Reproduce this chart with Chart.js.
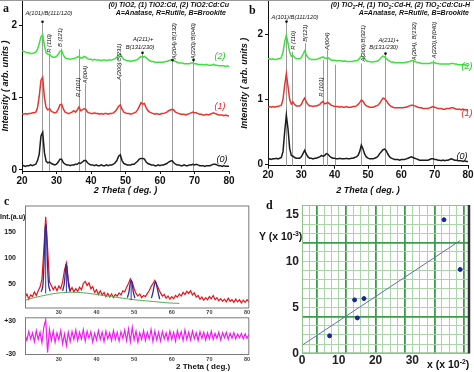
<!DOCTYPE html>
<html>
<head>
<meta charset="utf-8">
<script src="https://cdn.jsdelivr.net/npm/chart.js@4.4.1/dist/chart.umd.min.js"></script>
<style>
  body { margin: 0; background: #fff; width: 474px; height: 372px; position: relative; overflow: hidden; font-family: "Liberation Sans", Arial, sans-serif; color: #111; }
  canvas { position: absolute; }
  .t { position: absolute; white-space: nowrap; line-height: 1; }
  .serif { font-family: "Liberation Serif", "DejaVu Serif", serif; font-weight: bold; font-size: 12px; }
  .hdr { font-size: 7px; font-weight: bold; font-style: italic; }
  .tag { font-size: 9px; font-style: italic; transform: translate(-50%, -50%); }
  sup { font-size: 0.65em; line-height: 0; vertical-align: super; }
  sub { font-size: 0.7em; line-height: 0; vertical-align: sub; }
</style>
</head>
<body>
<div style="position:absolute;left:0;top:0;width:474px;height:1px;background:#999"></div>

<canvas id="chartA" width="237" height="196" style="left:0;top:0"></canvas>
<canvas id="chartB" width="237" height="196" style="left:237px;top:0"></canvas>
<canvas id="chartC" width="255" height="120" style="left:0;top:196px"></canvas>
<canvas id="chartR" width="255" height="60" style="left:0;top:312px"></canvas>
<canvas id="chartD" width="237" height="176" style="left:237px;top:196px"></canvas>

<div class="t serif" style="left:3px;top:2px">a</div>
<div class="t hdr" style="right:245px;top:1px">(0) TiO2, (1) TiO2:Cd, (2) TiO2:Cd:Cu</div>
<div class="t hdr" style="right:248px;top:9px">A=Anatase, R=Rutile, B=Brookite</div>
<div class="t tag" style="left:220px;top:56px;color:#22c822">(2)</div>
<div class="t tag" style="left:220px;top:106px;color:#e02828">(1)</div>
<div class="t tag" style="left:222px;top:159px">(0)</div>

<div class="t serif" style="left:249px;top:4px">b</div>
<div class="t hdr" style="right:4px;top:1px">(0) TiO<sub>2</sub>-H, (1) TiO<sub>2</sub>:Cd-H, (2) TiO<sub>2</sub>:Cd:Cu-H</div>
<div class="t hdr" style="right:5px;top:9px">A=Anatase, R=Rutile, B=Brookite</div>
<div class="t tag" style="left:467px;top:66px;color:#22c822">(2)</div>
<div class="t tag" style="left:467px;top:113px;color:#e02828">(1)</div>
<div class="t tag" style="left:462px;top:156px">(0)</div>

<div class="t serif" style="left:4px;top:195px">c</div>
<div class="t" style="left:0;top:213px;font-size:7px;font-weight:bold">Int.(a.u)</div>
<div class="t" style="left:176px;top:363px;font-size:8px;font-weight:bold">2 Theta ( deg.)</div>

<div class="t serif" style="left:266px;top:199px">d</div>
<div class="t" style="left:259px;top:231px;font-size:10.5px;font-weight:bold">Y (x 10<sup>-3</sup>)</div>
<div class="t" style="left:427px;top:359px;font-size:10.5px;font-weight:bold">x (x 10<sup>-2</sup>)</div>

<script>
// XRD patterns, panels a and b (2 theta grid, step 0.5 deg)
const twoTheta = [20,20.5,21,21.5,22,22.5,23,23.5,24,24.5,25,25.5,26,26.5,27,27.5,28,28.5,29,29.5,
  30,30.5,31,31.5,32,32.5,33,33.5,34,34.5,35,35.5,36,36.5,37,37.5,38,38.5,39,39.5,
  40,40.5,41,41.5,42,42.5,43,43.5,44,44.5,45,45.5,46,46.5,47,47.5,48,48.5,49,49.5,
  50,50.5,51,51.5,52,52.5,53,53.5,54,54.5,55,55.5,56,56.5,57,57.5,58,58.5,59,59.5,
  60,60.5,61,61.5,62,62.5,63,63.5,64,64.5,65,65.5,66,66.5,67,67.5,68,68.5,69,69.5,
  70,70.5,71,71.5,72,72.5,73,73.5,74,74.5,75,75.5,76,76.5,77,77.5,78,78.5,79,79.5,80];
const thetaTicks = [20, 30, 40, 50, 60, 70, 80];
const intensityTicks = [0, 1, 2];

const tio2 = [0.05,0.06,0.05,0.06,0.06,0.07,0.06,0.07,0.08,0.13,
  0.22,0.47,0.52,0.24,0.12,0.10,0.11,0.09,0.08,0.07,
  0.08,0.11,0.15,0.15,0.10,0.08,0.07,0.07,0.06,0.07,
  0.07,0.08,0.08,0.10,0.09,0.11,0.13,0.13,0.10,0.08,
  0.07,0.07,0.06,0.07,0.06,0.06,0.07,0.06,0.06,0.07,
  0.06,0.07,0.07,0.08,0.10,0.13,0.19,0.21,0.13,0.09,
  0.08,0.07,0.07,0.07,0.08,0.08,0.10,0.12,0.15,0.16,
  0.16,0.15,0.11,0.09,0.08,0.07,0.07,0.06,0.06,0.07,
  0.06,0.07,0.07,0.08,0.09,0.11,0.12,0.13,0.10,0.08,
  0.07,0.07,0.06,0.06,0.07,0.06,0.06,0.07,0.07,0.08,
  0.07,0.08,0.07,0.06,0.06,0.06,0.05,0.06,0.06,0.06,
  0.07,0.08,0.08,0.07,0.06,0.06,0.05,0.06,0.05,0.05,0.05];
const tio2Cd = [0.78,0.77,0.78,0.77,0.78,0.78,0.79,0.79,0.80,0.86,
  1.02,1.24,1.28,1.00,0.86,0.83,0.85,0.81,0.80,0.79,
  0.80,0.84,0.90,0.91,0.84,0.80,0.79,0.78,0.79,0.80,
  0.82,0.80,0.83,0.87,0.82,0.83,0.85,0.84,0.80,0.79,
  0.78,0.78,0.79,0.78,0.78,0.77,0.78,0.77,0.78,0.78,
  0.77,0.78,0.78,0.79,0.81,0.84,0.88,0.90,0.84,0.80,
  0.79,0.78,0.78,0.77,0.78,0.79,0.80,0.83,0.88,0.93,
  0.91,0.92,0.86,0.82,0.80,0.79,0.78,0.77,0.78,0.77,
  0.77,0.78,0.78,0.79,0.80,0.82,0.83,0.84,0.83,0.80,
  0.79,0.78,0.77,0.77,0.77,0.76,0.77,0.78,0.79,0.80,
  0.79,0.79,0.78,0.77,0.77,0.76,0.76,0.77,0.76,0.77,
  0.78,0.79,0.78,0.77,0.76,0.76,0.76,0.75,0.76,0.75,0.75];
const tio2CdCu = [1.65,1.64,1.63,1.62,1.62,1.61,1.61,1.62,1.63,1.67,
  1.75,1.84,1.87,1.72,1.62,1.60,1.60,1.57,1.56,1.56,
  1.57,1.60,1.64,1.65,1.59,1.55,1.54,1.54,1.53,1.54,
  1.54,1.55,1.56,1.57,1.55,1.55,1.57,1.56,1.54,1.53,
  1.53,1.52,1.53,1.52,1.52,1.52,1.51,1.52,1.52,1.51,
  1.52,1.52,1.52,1.53,1.54,1.56,1.59,1.60,1.56,1.53,
  1.52,1.51,1.51,1.50,1.51,1.51,1.52,1.53,1.55,1.57,
  1.56,1.57,1.55,1.53,1.51,1.50,1.50,1.49,1.49,1.49,
  1.49,1.49,1.49,1.50,1.50,1.51,1.52,1.52,1.51,1.50,
  1.49,1.48,1.48,1.48,1.47,1.47,1.47,1.47,1.48,1.48,
  1.47,1.47,1.46,1.46,1.46,1.46,1.45,1.46,1.45,1.45,
  1.45,1.46,1.45,1.45,1.44,1.44,1.44,1.44,1.43,1.44,1.43];

const tio2H = [0.08,0.09,0.08,0.09,0.09,0.10,0.09,0.10,0.11,0.20,
  0.50,0.76,0.55,0.25,0.14,0.13,0.11,0.10,0.10,0.10,
  0.12,0.17,0.22,0.16,0.12,0.10,0.10,0.09,0.10,0.10,
  0.11,0.12,0.14,0.13,0.14,0.17,0.16,0.13,0.11,0.10,
  0.10,0.09,0.09,0.10,0.09,0.09,0.09,0.10,0.09,0.09,
  0.10,0.10,0.11,0.12,0.14,0.20,0.30,0.24,0.16,0.12,
  0.10,0.09,0.09,0.09,0.10,0.11,0.13,0.17,0.20,0.23,
  0.24,0.21,0.16,0.12,0.10,0.09,0.08,0.08,0.08,0.07,
  0.08,0.08,0.08,0.09,0.10,0.11,0.12,0.11,0.10,0.09,
  0.08,0.07,0.07,0.07,0.07,0.07,0.07,0.08,0.09,0.09,
  0.08,0.08,0.07,0.07,0.06,0.07,0.06,0.07,0.07,0.08,
  0.09,0.08,0.07,0.07,0.06,0.06,0.06,0.05,0.06,0.05,0.05];
const tio2CdH = [0.88,0.89,0.88,0.89,0.88,0.89,0.89,0.90,0.91,1.00,
  1.22,1.39,1.20,1.00,0.93,0.96,0.92,0.90,0.90,0.90,
  0.92,0.98,1.02,0.96,0.92,0.90,0.90,0.89,0.90,0.90,
  0.91,0.92,0.95,0.97,0.93,0.94,0.95,0.93,0.91,0.90,
  0.89,0.89,0.89,0.88,0.89,0.88,0.88,0.89,0.88,0.88,
  0.88,0.89,0.89,0.90,0.92,0.95,0.99,0.97,0.93,0.90,
  0.89,0.88,0.88,0.88,0.89,0.90,0.91,0.94,0.98,1.02,
  1.01,0.98,0.94,0.91,0.89,0.88,0.87,0.87,0.87,0.87,
  0.87,0.87,0.88,0.88,0.89,0.90,0.91,0.91,0.90,0.89,
  0.88,0.87,0.87,0.86,0.86,0.86,0.86,0.87,0.88,0.89,
  0.88,0.87,0.86,0.86,0.86,0.85,0.85,0.86,0.86,0.86,
  0.87,0.87,0.86,0.85,0.85,0.85,0.84,0.85,0.84,0.84,0.84];
const tio2CdCuH = [1.62,1.62,1.61,1.62,1.61,1.61,1.62,1.62,1.64,1.72,
  1.88,1.98,1.86,1.72,1.66,1.67,1.64,1.62,1.62,1.62,
  1.64,1.69,1.74,1.68,1.64,1.62,1.61,1.61,1.61,1.61,
  1.62,1.63,1.64,1.65,1.63,1.63,1.64,1.62,1.60,1.60,
  1.60,1.59,1.59,1.59,1.59,1.58,1.59,1.58,1.58,1.58,
  1.58,1.58,1.59,1.59,1.60,1.63,1.66,1.65,1.62,1.59,
  1.58,1.58,1.57,1.57,1.58,1.58,1.59,1.61,1.64,1.66,
  1.65,1.63,1.60,1.58,1.57,1.57,1.56,1.56,1.56,1.56,
  1.56,1.56,1.56,1.57,1.57,1.58,1.59,1.59,1.58,1.57,
  1.56,1.56,1.55,1.55,1.55,1.55,1.55,1.55,1.56,1.56,
  1.56,1.55,1.55,1.54,1.54,1.54,1.54,1.54,1.54,1.54,
  1.55,1.55,1.54,1.54,1.53,1.53,1.53,1.53,1.53,1.52,1.52];

// reflection markers (2 theta), line tops and label anchors in intensity units
const peaksA = [25.8, 27.8, 31.2, 36.5, 38.3, 48.3, 54.8, 63.5, 69.6];
const peakTopsA = [2.05, 1.60, 1.68, 1.67, 1.19, 1.24, 1.62, 1.52, 1.52];
const peakDotA = [1, 0, 0, 0, 0, 0, 1, 1, 1];
const uprightA = ['R (110)', 'B (121)', 'R (101)', 'A(004)', 'A(200)/B(231)', 'A(204)/B(132)', 'A(220)/B(040)'];
const uprightAtA = [27.8, 31.25, 36.2, 38.5, 48.1, 64.1, 69.6];
const uprightBaseA = [1.62, 1.70, 1.01, 1.20, 1.245, 1.53, 1.53];
const flatA = ['A(101)/B(111/120)', 'A(211)+', 'B(131/230)'];
const flatAtA = [27.8, 55.1, 54.2];
const flatLevelA = [2.16, 1.80, 1.69];

const peaksB = [25.5, 27.2, 31.0, 36.5, 37.7, 40.2, 48.0, 55.0, 63.4, 69.4];
const peakTopsB = [2.19, 1.73, 1.86, 1.60, 1.76, 1.53, 1.55, 1.70, 1.60, 1.60];
const peakDotB = [1, 0, 0, 0, 0, 0, 0, 1, 0, 0];
const uprightB = ['R (110)', 'B(121)', 'R (101)', 'A(004)', 'A(200)/B(321)', 'A(204), B(132)', 'A(220),B(040)'];
const uprightAtB = [27.7, 31.1, 35.9, 37.9, 48.5, 63.8, 69.8];
const uprightBaseB = [1.76, 1.88, 1.04, 1.76, 1.58, 1.60, 1.63];
const flatB = ['A(101)/B(111/120)', 'A(211)+', 'B(131/230)'];
const flatAtB = [28.1, 56.2, 54.7];
const flatLevelB = [2.26, 1.91, 1.80];

// panel c: measured pattern, background, fitted peaks, residual
const thetaC = [21,21.5,22,22.5,23,23.5,24,24.5,25,25.5,26,26.5,27,27.5,28,28.5,29,29.5,30,30.5,
  31,31.5,32,32.5,33,33.5,34,34.5,35,35.5,36,36.5,37,37.5,38,38.5,39,39.5,40,40.5,
  41,41.5,42,42.5,43,43.5,44,44.5,45,45.5,46,46.5,47,47.5,48,48.5,49,49.5,50,50.5,
  51,51.5,52,52.5,53,53.5,54,54.5,55,55.5,56,56.5,57,57.5,58,58.5,59,59.5,60,60.5,
  61,61.5,62,62.5,63,63.5,64,64.5,65,65.5,66,66.5,67,67.5,68,68.5,69,69.5,70,70.5,
  71,71.5,72,72.5,73,73.5,74,74.5,75,75.5,76,76.5,77,77.5,78,78.5,79,79.5,80,80.5];
const thetaTicksC = [30, 40, 50, 60, 70, 80];
const intTicksC = [50, 100, 150];
const measuredC = [25,32,22,30,27,36,29,38,45,60,115,179,120,55,48,40,46,38,47,42,
  55,78,91,60,38,44,36,42,37,45,40,52,56,48,53,42,46,35,40,31,
  38,30,35,27,33,26,32,25,31,28,34,30,38,36,45,52,61,55,42,33,
  28,32,25,29,27,33,38,46,52,58,50,42,34,28,31,24,28,22,27,23,
  29,26,32,28,35,31,37,33,38,30,34,26,29,22,26,20,25,21,27,23,
  29,21,25,19,23,18,22,17,24,18,21,16,22,17,21,15,20,16,21,17];
const residualC = [5,-6,10,-3,8,-8,12,-4,9,-10,18,32,-28,14,-6,11,-9,8,-5,12,
  -12,6,-15,9,-8,10,-4,13,-6,9,-3,14,-7,11,-2,10,-9,7,-5,12,
  -4,9,-8,11,-3,8,-6,12,-4,9,-7,10,-2,13,-6,15,-8,18,-5,11,
  -9,8,-4,12,-6,9,-3,14,-8,11,-5,9,-7,10,-3,8,-6,11,-4,9,
  -7,12,-2,10,-6,13,-4,9,-5,11,-3,8,-6,10,-2,9,-5,8,-3,11,
  -4,7,-2,9,-5,8,-1,9,-4,7,-2,8,-3,6,-1,7,-3,6,-2,5];
const residualTicks = [-30, 30];
const bgTheta = [21, 23, 26, 29, 32, 35, 38, 41, 44, 47, 50, 53, 56, 59, 62];
const bgInt = [20, 24, 29, 33, 35, 35, 33, 30, 27, 24, 21, 19, 17, 15, 14];
const fit1Theta = [25.3, 25.7, 26.0, 26.2, 26.4, 26.6, 26.8, 27.0, 27.3, 27.7];
const fit1Int = [36, 45, 80, 125, 160, 163, 130, 85, 48, 37];
const fit2Theta = [31.0, 31.4, 31.7, 31.9, 32.1, 32.3, 32.6, 33.0];
const fit2Int = [38, 50, 72, 88, 86, 68, 48, 37];
const fit3Theta = [48.2, 48.6, 48.9, 49.2, 49.5, 49.8, 50.2];
const fit3Int = [25, 35, 50, 58, 50, 35, 24];
const fit4Theta = [54.6, 55.0, 55.4, 55.7, 56.0, 56.4, 56.8];
const fit4Int = [24, 35, 50, 55, 48, 34, 22];
const fitCentres = [26.5, 32.0, 49.2];
const fitFrom = [33, 35, 20];
const fitTo = [165, 90, 58];

// panel d: points and fitted line
const dX = [7.5, 14.3, 15.05, 16.85, 38.6, 43.0];
const dY = [1.9, 5.8, 3.84, 5.94, 14.5, 9.1];
const dLineX = [0, 43];
const dLineY = [0.87, 12.24];
const dXLabels = [0, 10, 20, 30];
const dYLabels = [0, 5, 10, 15];

Chart.defaults.font.family = '"Liberation Sans", Arial, sans-serif';
Chart.defaults.color = '#111';
Chart.defaults.animation = false;
Chart.defaults.events = [];
Chart.defaults.plugins.legend.display = false;
Chart.defaults.plugins.tooltip.enabled = false;

function fixBox(size) {
    return function(scale) {
        if (scale.isHorizontal()) scale.height = size; else scale.width = size;
        scale.paddingTop = scale.paddingBottom = scale.paddingLeft = scale.paddingRight = 0;
    };
}
function fixedTicks(list) {
    return function(scale) { scale.ticks = list.map(v => ({ value: v })); };
}
function pairs(xs, ys) {
    return xs.map((x, i) => ({ x: x, y: ys[i] }));
}

const framePlugin = {
    id: 'frame',
    afterDraw(chart, args, opts) {
        if (!opts.color) return;
        const { ctx, chartArea: a } = chart;
        ctx.save();
        ctx.strokeStyle = opts.color;
        ctx.lineWidth = 1;
        ctx.strokeRect(a.left + 0.5, a.top + 0.5, a.right - a.left - 1, a.bottom - a.top - 1);
        if (opts.rightColor) {
            ctx.strokeStyle = opts.rightColor;
            ctx.lineWidth = 2.5;
            ctx.beginPath();
            ctx.moveTo(a.right, a.top);
            ctx.lineTo(a.right, a.bottom);
            ctx.stroke();
        }
        ctx.restore();
    }
};

const peakPlugin = {
    id: 'peaks',
    beforeDatasetsDraw(chart, args, o) {
        if (!o.lines) return;
        const { ctx, chartArea, scales: { x, y } } = chart;
        ctx.save();
        ctx.strokeStyle = '#9a9a9a';
        ctx.lineWidth = 1;
        o.lines.forEach((t, i) => {
            const px = Math.round(x.getPixelForValue(t)) + 0.5;
            ctx.beginPath();
            ctx.moveTo(px, chartArea.bottom);
            ctx.lineTo(px, y.getPixelForValue(o.tops[i]));
            ctx.stroke();
        });
        ctx.restore();
    },
    afterDatasetsDraw(chart, args, o) {
        if (!o.lines) return;
        const { ctx, scales: { x, y } } = chart;
        ctx.save();
        ctx.fillStyle = '#111';
        o.lines.forEach((t, i) => {
            if (!o.dots[i]) return;
            ctx.beginPath();
            ctx.arc(Math.round(x.getPixelForValue(t)) + 0.5, y.getPixelForValue(o.tops[i]), 1.3, 0, Math.PI * 2);
            ctx.fill();
        });
        ctx.font = 'italic 5.8px "Liberation Sans", Arial, sans-serif';
        ctx.textBaseline = 'middle';
        ctx.textAlign = 'left';
        o.upright.forEach((s, i) => {
            ctx.save();
            ctx.translate(x.getPixelForValue(o.uprightAt[i]), y.getPixelForValue(o.uprightBase[i]));
            ctx.rotate(-Math.PI / 2);
            ctx.fillText(s, 0, 0);
            ctx.restore();
        });
        ctx.textAlign = 'center';
        o.flat.forEach((s, i) => {
            ctx.fillText(s, x.getPixelForValue(o.flatAt[i]), y.getPixelForValue(o.flatLevel[i]));
        });
        ctx.restore();
    }
};

const fitMarkPlugin = {
    id: 'fitMarks',
    afterDatasetsDraw(chart, args, o) {
        if (!o.at) return;
        const { ctx, scales: { x, y } } = chart;
        ctx.save();
        ctx.strokeStyle = '#3b2fa0';
        ctx.lineWidth = 1;
        o.at.forEach((t, i) => {
            const px = x.getPixelForValue(t);
            ctx.beginPath();
            ctx.moveTo(px, y.getPixelForValue(o.from[i]));
            ctx.lineTo(px, y.getPixelForValue(o.to[i]));
            ctx.stroke();
        });
        ctx.restore();
    }
};

Chart.register(framePlugin, peakPlugin, fitMarkPlugin);

function xrdChart(id, series, yMin, yMax, yWidth, xHeight, padRight, peaks) {
    const colours = ['#1c1c1c', '#e8362f', '#3ee03e'];
    return new Chart(document.getElementById(id), {
        type: 'line',
        data: {
            labels: twoTheta,
            datasets: series.map((s, i) => ({
                data: s,
                borderColor: colours[i],
                borderWidth: 1.5,
                pointRadius: 0,
                tension: 0
            }))
        },
        options: {
            responsive: false,
            layout: { padding: { left: 0, right: padRight, top: 1, bottom: 0 } },
            scales: {
                x: {
                    type: 'linear', min: 20, max: 80,
                    afterBuildTicks: fixedTicks(thetaTicks),
                    afterFit: fixBox(xHeight),
                    ticks: { font: { size: 10, weight: 'bold' }, padding: 1, maxRotation: 0, autoSkip: false },
                    grid: { drawOnChartArea: false, tickLength: 3, color: '#111' },
                    border: { color: '#111' },
                    title: { display: true, text: '2 Theta ( deg. )', padding: 0,
                        font: { size: 9, weight: 'bold', style: 'italic' } }
                },
                y: {
                    min: yMin, max: yMax,
                    afterBuildTicks: fixedTicks(intensityTicks),
                    afterFit: fixBox(yWidth),
                    ticks: { font: { size: 10, weight: 'bold' }, padding: 2 },
                    grid: { drawOnChartArea: false, tickLength: 3, color: '#111' },
                    border: { color: '#111' },
                    title: { display: true, text: 'Intensity ( arb. units )', padding: { top: yWidth > 25 ? 2 : 0 },
                        font: { size: 9, weight: 'bold', style: 'italic' } }
                }
            },
            plugins: { peaks: peaks }
        }
    });
}

xrdChart('chartA', [tio2, tio2Cd, tio2CdCu], -0.014, 2.337, 22, 25, 8, {
    lines: peaksA, tops: peakTopsA, dots: peakDotA,
    upright: uprightA, uprightAt: uprightAtA, uprightBase: uprightBaseA,
    flat: flatA, flatAt: flatAtA, flatLevel: flatLevelA
});

xrdChart('chartB', [tio2H, tio2CdH, tio2CdCuH], -0.015, 2.505, 31, 30.3, 6, {
    lines: peaksB, tops: peakTopsB, dots: peakDotB,
    upright: uprightB, uprightAt: uprightAtB, uprightBase: uprightBaseB,
    flat: flatB, flatAt: flatAtB, flatLevel: flatLevelB
});

const smallTicks = { font: { size: 5.5, weight: 'bold' }, color: '#444', padding: 1, maxRotation: 0, autoSkip: false };
const noGrid = { display: false, drawTicks: false };
const fitStyle = { borderColor: '#35288f', borderWidth: 1.3, pointRadius: 0, tension: 0.3, order: 1 };

new Chart(document.getElementById('chartC'), {
    type: 'line',
    data: {
        labels: thetaC,
        datasets: [
            { data: measuredC, borderColor: '#e8141b', borderWidth: 1.2, pointRadius: 0, order: 3 },
            { data: pairs(bgTheta, bgInt), borderColor: '#4caf50', borderWidth: 1, pointRadius: 0, tension: 0.4, order: 2 },
            Object.assign({ data: pairs(fit1Theta, fit1Int) }, fitStyle),
            Object.assign({ data: pairs(fit2Theta, fit2Int) }, fitStyle),
            Object.assign({ data: pairs(fit3Theta, fit3Int) }, fitStyle),
            Object.assign({ data: pairs(fit4Theta, fit4Int) }, fitStyle)
        ]
    },
    options: {
        responsive: false,
        layout: { padding: { left: 0, right: 5.7, top: 9.5, bottom: 0 } },
        scales: {
            x: { type: 'linear', min: 21, max: 80.6, afterBuildTicks: fixedTicks(thetaTicksC), afterFit: fixBox(7.5),
                ticks: smallTicks, grid: noGrid, border: { display: false } },
            y: { min: 4.3, max: 200.5, afterBuildTicks: fixedTicks(intTicksC), afterFit: fixBox(25),
                ticks: { font: { size: 7, weight: 'bold' }, color: '#222', padding: 9 }, grid: noGrid, border: { display: false } }
        },
        plugins: {
            frame: { color: '#7a7a7a' },
            fitMarks: { at: fitCentres, from: fitFrom, to: fitTo }
        }
    }
});

new Chart(document.getElementById('chartR'), {
    type: 'line',
    data: {
        labels: thetaC,
        datasets: [{ data: residualC, borderColor: '#f01ef0', borderWidth: 1.2, pointRadius: 0 }]
    },
    options: {
        responsive: false,
        layout: { padding: { left: 0, right: 5.7, top: 5.3, bottom: 0 } },
        scales: {
            x: { type: 'linear', min: 21, max: 80.6, afterBuildTicks: fixedTicks(thetaTicksC), afterFit: fixBox(17),
                ticks: smallTicks, grid: noGrid, border: { display: false } },
            y: { min: -32.4, max: 36.2, afterBuildTicks: fixedTicks(residualTicks), afterFit: fixBox(25),
                ticks: { font: { size: 7, weight: 'bold' }, color: '#222', padding: 9,
                    callback: v => (v > 0 ? '+' + v : String(v)) },
                grid: noGrid, border: { display: false } }
        },
        plugins: { frame: { color: '#7a7a7a' } }
    }
});

const dGridX = [];
for (let v = 0; v <= 44; v += 2) dGridX.push(v);
const dGridY = [];
for (let v = 0; v <= 16; v += 1) dGridY.push(v);
const gridColour = ctx => (ctx.tick && ctx.tick.value % 8 === 4 ? '#3f9b4c' : '#a9d5a9');
const gridWidth = ctx => (ctx.tick && ctx.tick.value % 8 === 4 ? 1.8 : 1);

new Chart(document.getElementById('chartD'), {
    type: 'scatter',
    data: {
        datasets: [
            { data: pairs(dX, dY), backgroundColor: '#1b2690', borderColor: '#1b2690', pointRadius: 2, pointStyle: 'circle' },
            { type: 'line', data: pairs(dLineX, dLineY), borderColor: '#6170ab', borderWidth: 1, pointRadius: 0 }
        ]
    },
    options: {
        responsive: false,
        layout: { padding: { left: 0, right: 3, top: 9, bottom: 0 } },
        scales: {
            x: { type: 'linear', min: 0, max: 45.4, afterBuildTicks: fixedTicks(dGridX), afterFit: fixBox(18.7),
                ticks: { font: { size: 12, weight: 'bold' }, color: '#222', padding: 0, maxRotation: 0, autoSkip: false,
                    callback: v => (dXLabels.includes(v) ? String(v) : '') },
                grid: { color: gridColour, lineWidth: gridWidth, drawTicks: false },
                border: { color: '#8cc48c' } },
            y: { min: 0, max: 16.1, afterBuildTicks: fixedTicks(dGridY), afterFit: fixBox(65),
                ticks: { font: { size: 12, weight: 'bold' }, color: '#222', padding: 3, autoSkip: false,
                    callback: v => (dYLabels.includes(v) ? String(v) : '') },
                grid: { color: gridColour, lineWidth: gridWidth, drawTicks: false },
                border: { color: '#8cc48c' } }
        },
        plugins: { frame: { color: '#8cc48c', rightColor: '#333' } }
    }
});
</script>
</body>
</html>
